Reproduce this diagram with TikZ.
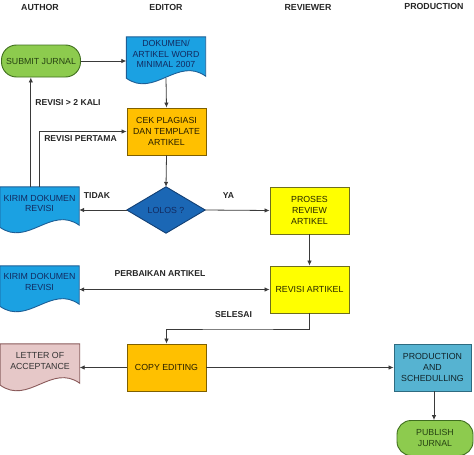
\documentclass[tikz,border=0pt]{standalone}
\usepackage{fontspec}
\setmainfont{Liberation Sans}
\usetikzlibrary{calc,arrows.meta}
\definecolor{gfill}{HTML}{8DCB4E}
\definecolor{gdraw}{HTML}{3F6E1E}
\definecolor{bfill}{HTML}{1BA1E2}
\definecolor{bdraw}{HTML}{1D5E96}
\definecolor{btext}{HTML}{122A60}
\definecolor{ofill}{HTML}{FFC000}
\definecolor{odraw}{HTML}{7F6000}
\definecolor{dfill}{HTML}{1B67B5}
\definecolor{ddraw}{HTML}{123F73}
\definecolor{yfill}{HTML}{FFFF00}
\definecolor{ydraw}{HTML}{6E6E1E}
\definecolor{pfill}{HTML}{E6C8C8}
\definecolor{pdraw}{HTML}{8A5A5A}
\definecolor{cfill}{HTML}{56B3D1}
\definecolor{cdraw}{HTML}{2E6B80}
\definecolor{lcol}{HTML}{3A3A3A}
\newcommand\docshape[4]{%
  \path[fill=#3,draw=#4,line width=0.9pt] (#1.north west) -- (#1.north east)
    -- ($(#1.south east)+(0,#2-2)$)
    .. controls ($(#1.south east)+(-28,#2-22)$) and ($(#1.south west)+(28,#2+20)$) ..
    ($(#1.south west)+(0,#2)$) -- cycle;}
\begin{document}
\begin{tikzpicture}[x=1pt,y=-1pt,
  txt/.style={font=\fontsize{8.8}{10.6}\selectfont,align=center,inner sep=0pt},
  hdr/.style={font=\bfseries\fontsize{8.8}{10}\selectfont,text=black!85,inner sep=0pt},
  lbl/.style={font=\bfseries\fontsize{8.6}{10}\selectfont,text=black!85,inner sep=0pt},
  term/.style={txt,draw=gdraw,fill=gfill,line width=0.9pt,rounded corners=15pt,text=gdraw!60!black},
  procbox/.style={txt,draw=odraw,fill=ofill,line width=0.9pt,text=black!85!ofill},
  revbox/.style={txt,draw=ydraw,fill=yfill,line width=0.9pt,text=black!85!yfill},
  prodbox/.style={txt,draw=cdraw,fill=cfill,line width=0.9pt,text=black!80!cfill},
  docbox/.style={txt,minimum width=79pt},
  arr/.style={draw=lcol,line width=0.8pt,-{Latex[length=5pt,width=4.5pt]}},
  darr/.style={draw=lcol,line width=0.8pt,{Latex[length=5pt,width=4.5pt]}-{Latex[length=5pt,width=4.5pt]}}]
\useasboundingbox (0,0) rectangle (474,455);

% headers
\node[hdr] (hA) at (40,7) {AUTHOR};
\node[hdr] (hE) at (166,7) {EDITOR};
\node[hdr] (hR) at (308,7) {REVIEWER};
\node[hdr] (hP) at (434,6) {PRODUCTION};

% shapes
\node[term,minimum width=79pt,minimum height=32pt] (submit) at (41,61) {SUBMIT JURNAL};

\node[docbox,minimum height=34pt] (dok) at (166,54) {};
\docshape{dok}{7}{bfill}{bdraw}
\node[txt,text=btext] (dokt) at (dok.center) {DOKUMEN/\\ARTIKEL WORD\\MINIMAL 2007};

\node[procbox,minimum width=79pt,minimum height=47pt] (cek) at (166.5,131.5) {CEK PLAGIASI\\DAN TEMPLATE\\ARTIKEL};

\node[txt,minimum width=78pt,minimum height=46pt] (lolos) at (166,210) {};
\path[fill=dfill,draw=ddraw,line width=0.9pt] (lolos.north) -- (lolos.east) -- (lolos.south) -- (lolos.west) -- cycle;
\node[txt,text=btext] (lolost) at (lolos.center) {LOLOS ?};

\node[docbox,minimum height=33pt] (kirim1) at (39.5,203.5) {};
\docshape{kirim1}{7}{bfill}{bdraw}
\node[txt,text=btext] (kirim1t) at (kirim1.center) {KIRIM DOKUMEN\\REVISI};

\node[revbox,minimum width=79pt,minimum height=47pt] (proses) at (309.5,210.5) {PROSES\\REVIEW\\ARTIKEL};
\node[revbox,minimum width=79pt,minimum height=47pt] (revisi) at (309.5,289.5) {REVISI ARTIKEL};

\node[docbox,minimum height=32pt] (kirim2) at (39.5,282) {};
\docshape{kirim2}{8}{bfill}{bdraw}
\node[txt,text=btext] (kirim2t) at (kirim2.center) {KIRIM DOKUMEN\\REVISI};

\node[procbox,minimum width=79pt,minimum height=47pt] (copy) at (166.5,367.5) {COPY EDITING};

\node[docbox,minimum height=34pt] (letter) at (40,361) {};
\docshape{letter}{7}{pfill}{pdraw}
\node[txt,text=black!80] (lettert) at (letter.center) {LETTER OF\\ACCEPTANCE};

\node[prodbox,minimum width=77pt,minimum height=47pt] (prod) at (432.5,367.5) {PRODUCTION\\AND\\SCHEDULLING};
\node[term,minimum width=76pt,minimum height=35pt,rounded corners=14pt] (publish) at (435,438) {PUBLISH\\JURNAL};

% connector end points
\coordinate (k1a) at ($(kirim1.north west)+(31,0)$);
\coordinate (k1b) at ($(kirim1.north west)+(40,0)$);
\coordinate (dokb) at ($(dok.south)+(0,7)$);
\coordinate (prodb) at ($(prod.south)+(1.5,0)$);
\coordinate (selc) at (238,329);

% connectors
\draw[arr] (submit.east) -- (submit.east -| dok.west);
\draw[arr] (dokb) -- (cek.north);
\draw[arr] (cek.south) -- (lolos.north);
\draw[arr] (lolos.west) -- (lolos.west -| kirim1.east);
\draw[arr] (lolos.east) -- (proses.west);
\draw[arr] (k1a) -- (k1a |- submit.south);
\draw[arr] (k1b) |- (cek.west);
\draw[arr] (proses.south) -- (revisi.north);
\draw[darr] (revisi.west) -- (revisi.west -| kirim2.east);
\draw[arr] (revisi.south) |- (selc) -| (copy.north);
\draw[arr] (copy.west) -- (copy.west -| letter.east);
\draw[arr] (copy.east) -- (prod.west);
\draw[arr] (prodb) -- (prodb |- publish.north);

% labels
\node[lbl] (l1) at (68,103) {REVISI > 2 KALI};
\node[lbl] (l2) at (80.5,139) {REVISI PERTAMA};
\node[lbl] (l3) at (97,196) {TIDAK};
\node[lbl] (l4) at (228.5,196) {YA};
\node[lbl] (l5) at (160,274) {PERBAIKAN ARTIKEL};
\node[lbl] (l6) at (233.5,315) {SELESAI};
\end{tikzpicture}
\end{document}
